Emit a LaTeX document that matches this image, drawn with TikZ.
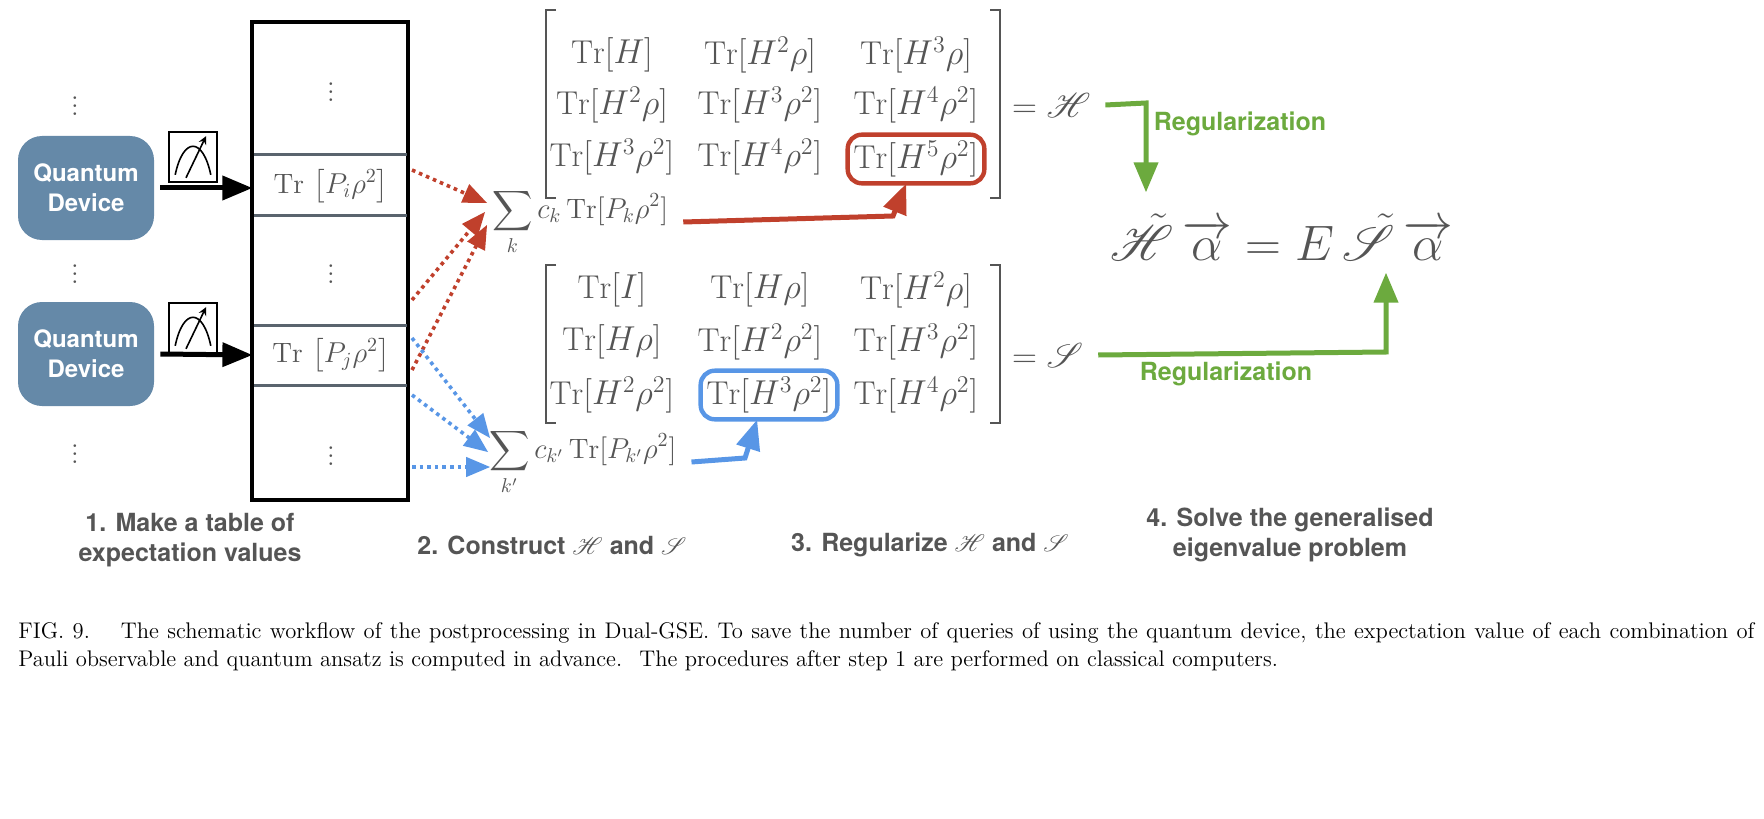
\documentclass[tikz,border=0pt]{standalone}
\usepackage{fontspec}
\usepackage{amsmath,amssymb,mathrsfs}
\newfontfamily\heros{TeX Gyre Heros}
\usetikzlibrary{shapes,arrows,positioning}
\definecolor{devblue}{RGB}{101,137,168}
\definecolor{myred}{RGB}{192,64,44}
\definecolor{myblue}{RGB}{88,150,230}
\definecolor{mygreen}{RGB}{108,170,62}
\definecolor{mygrey}{RGB}{85,85,85}
\definecolor{linegrey}{RGB}{90,100,110}
\tikzset{
  device/.style={rounded corners=12pt,fill=devblue,text=white,minimum width=68pt,minimum height=52pt,align=center,font=\heros\bfseries\fontsize{12}{15}\selectfont},
  entry/.style={font=\fontsize{16.5}{20}\selectfont,text=mygrey},
  cell/.style={font=\fontsize{14}{17}\selectfont,text=mygrey},
  steplabel/.style={font=\heros\bfseries\fontsize{12.5}{15}\selectfont,text=mygrey,align=center},
  meter/.style={draw,thick,minimum width=24pt,minimum height=25pt,inner sep=0pt},
  vd/.style={font=\fontsize{14}{16}\selectfont,text=mygrey},
}
\begin{document}
\begin{tikzpicture}[x=0.5pt,y=-0.5pt]

% devices
\node[device] (Q1) at (86,188) {Quantum\\Device};
\node[device] (Q2) at (86,354) {Quantum\\Device};
\node[vd] (d1) at (75,100) {$\vdots$};
\node[vd] (d2) at (75,268) {$\vdots$};
\node[vd] (d3) at (75,448) {$\vdots$};

% meters
\foreach \m/\y in {M1/157,M2/328}{
  \node[meter] (\m) at (193,\y) {};
  \draw[thick] ([xshift=3.5pt,yshift=4pt]\m.south west) .. controls +(4pt,19pt) and +(-4pt,19pt) .. ([xshift=-3.5pt,yshift=4pt]\m.south east);
  \draw[thick,-stealth] ([xshift=-3.5pt,yshift=2.5pt]\m.south) -- ([xshift=6.5pt,yshift=-2.5pt]\m.north);
}

% table
\draw[line width=1.8pt] (252,22) rectangle (408,500);
\foreach \y in {155,216,325,385}{ \draw[line width=1.5pt,linegrey] (254,\y) -- (407,\y); }
\coordinate (T1) at (252,188);
\coordinate (T2) at (252,355);
\draw[line width=2.5pt,-triangle 45] ([xshift=3pt]Q1.east) -- (T1);
\draw[line width=2.5pt,-triangle 45] ([xshift=3pt]Q2.east) -- (T2);
\node[cell] (Pi) at (331,186) {$\mathrm{Tr}\,\left[P_i\rho^2\right]$};
\node[cell] (Pj) at (331,355) {$\mathrm{Tr}\,\left[P_j\rho^2\right]$};
\node[vd] (t1) at (331,86) {$\vdots$};
\node[vd] (t2) at (331,268) {$\vdots$};
\node[vd] (t3) at (331,450) {$\vdots$};

% sums
\node[cell,anchor=west] (Sk) at (485,222) {$\displaystyle\sum_{k} c_k\,\mathrm{Tr}[P_k\rho^2]$};
\node[cell,anchor=west] (Skp) at (482,462) {$\displaystyle\sum_{k'} c_{k'}\,\mathrm{Tr}[P_{k'}\rho^2]$};
\coordinate (r1) at (412,170); \coordinate (r2) at (412,300); \coordinate (r3) at (412,370);
\coordinate (b1) at (412,338); \coordinate (b2) at (412,395); \coordinate (b3) at (412,467);
\draw[myred,line width=1.8pt,dotted,-triangle 45] (r1) -- (487,203);
\draw[myred,line width=1.8pt,dotted,-triangle 45] (r2) -- (485,212);
\draw[myred,line width=1.8pt,dotted,-triangle 45] (r3) -- (487,225);
\draw[myblue,line width=1.8pt,dotted,-triangle 45] (b1) -- (490,438);
\draw[myblue,line width=1.8pt,dotted,-triangle 45] (b2) -- (488,452);
\draw[myblue,line width=1.8pt,dotted,-triangle 45] (b3) -- (490,467);

% H matrix
\draw[mygrey,line width=1.3pt] (556,10) -- (546,10) -- (546,198) -- (556,198);
\draw[mygrey,line width=1.3pt] (990,10) -- (1000,10) -- (1000,198) -- (990,198);
\node[entry] (h11) at (612,55) {$\mathrm{Tr}[H]$};
\node[entry] (h12) at (760,55) {$\mathrm{Tr}[H^2\rho]$};
\node[entry] (h13) at (916,55) {$\mathrm{Tr}[H^3\rho]$};
\node[entry] (h21) at (612,105) {$\mathrm{Tr}[H^2\rho]$};
\node[entry] (h22) at (760,105) {$\mathrm{Tr}[H^3\rho^2]$};
\node[entry] (h23) at (916,105) {$\mathrm{Tr}[H^4\rho^2]$};
\node[entry] (h31) at (612,157) {$\mathrm{Tr}[H^3\rho^2]$};
\node[entry] (h32) at (760,157) {$\mathrm{Tr}[H^4\rho^2]$};
\node[entry,draw=myred,line width=2.2pt,rounded corners=7pt,inner sep=3pt] (h33) at (916,159) {$\mathrm{Tr}[H^5\rho^2]$};
\node[entry,anchor=west] (Heq) at (1005,105) {$=\mathscr{H}$};

% S matrix
\draw[mygrey,line width=1.3pt] (556,265) -- (546,265) -- (546,423) -- (556,423);
\draw[mygrey,line width=1.3pt] (990,265) -- (1000,265) -- (1000,423) -- (990,423);
\node[entry] (s11) at (612,290) {$\mathrm{Tr}[I]$};
\node[entry] (s12) at (760,290) {$\mathrm{Tr}[H\rho]$};
\node[entry] (s13) at (916,290) {$\mathrm{Tr}[H^2\rho]$};
\node[entry] (s21) at (612,342) {$\mathrm{Tr}[H\rho]$};
\node[entry] (s22) at (760,342) {$\mathrm{Tr}[H^2\rho^2]$};
\node[entry] (s23) at (916,342) {$\mathrm{Tr}[H^3\rho^2]$};
\node[entry] (s31) at (612,395) {$\mathrm{Tr}[H^2\rho^2]$};
\node[entry,draw=myblue,line width=2.2pt,rounded corners=7pt,inner sep=3pt] (s32) at (769,395) {$\mathrm{Tr}[H^3\rho^2]$};
\node[entry] (s33) at (916,395) {$\mathrm{Tr}[H^4\rho^2]$};
\node[entry,anchor=west] (Seq) at (1005,355) {$=\mathscr{S}$};

% highlight arrows
\coordinate (redin) at (906,184);
\coordinate (bluein) at (757,420);
\draw[myred,line width=2.5pt,-triangle 45] ([xshift=4pt]Sk.east) -- (893,216) -- (redin);
\draw[myblue,line width=2.5pt,-triangle 45] ([xshift=4pt]Skp.east) -- (745,458) -- (bluein);

% eigenproblem
\node[font=\fontsize{34}{40}\selectfont,text=mygrey] (eig) at (1282,237) {$\tilde{\mathscr{H}}\,\overrightarrow{\alpha}=E\,\tilde{\mathscr{S}}\,\overrightarrow{\alpha}$};
\coordinate (Htop) at (1146,192);
\coordinate (Sbot) at (1386,273);
\draw[mygreen,line width=2.5pt,-triangle 45] ([xshift=4pt]Heq.east) -- (1146,103) -- (Htop);
\draw[mygreen,line width=2.5pt,-triangle 45] ([xshift=4pt]Seq.east) -- (1386,352) -- (Sbot);
\node[text=mygreen,font=\heros\bfseries\fontsize{12.5}{15}\selectfont] (reg1) at (1240,124) {Regularization};
\node[text=mygreen,font=\heros\bfseries\fontsize{12.5}{15}\selectfont] (reg2) at (1226,374) {Regularization};

% steps
\node[steplabel] (st1) at (190,540) {1. Make a table of\\expectation values};
\node[steplabel] (st2) at (552,545) {2. Construct $\boldsymbol{\mathscr{H}}$ and $\boldsymbol{\mathscr{S}}$};
\node[steplabel] (st3) at (930,545) {3. Regularize $\boldsymbol{\mathscr{H}}$ and $\boldsymbol{\mathscr{S}}$};
\node[steplabel] (st4) at (1290,535) {4. Solve the generalised\\eigenvalue problem};

% caption
\node[anchor=north west,text width=868pt,align=justify,inner sep=0pt,font=\fontsize{11.3}{14.3}\selectfont] (cap) at (18,622)
{FIG. 9.\quad\ The schematic workflow of the postprocessing in Dual-GSE. To save the number of queries of using the quantum device, the expectation value of each combination of Pauli observable and quantum ansatz is computed in advance. \ The procedures after step 1 are performed on classical computers.};

\pgfresetboundingbox
\useasboundingbox (0,0) rectangle (1764,818);
\end{tikzpicture}
\end{document}
